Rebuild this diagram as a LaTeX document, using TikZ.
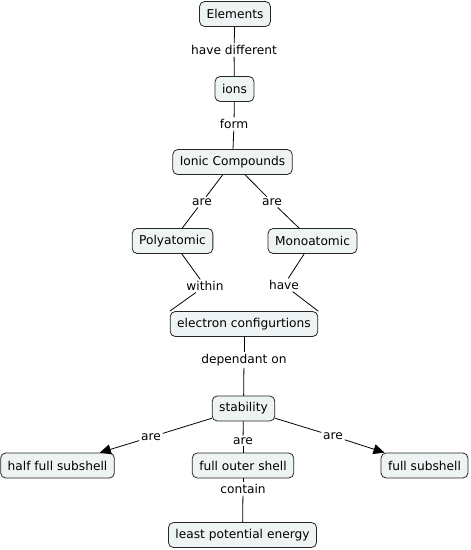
\documentclass[tikz,border=0pt]{standalone}
\usepackage{fontspec}
\setmainfont{DejaVu Sans}
\usepackage{tikz}
\usetikzlibrary{arrows.meta}
\definecolor{cfill}{RGB}{238,243,244}
\begin{document}
\begin{tikzpicture}[x=1pt,y=-1pt,font=\fontsize{12.2}{14}\selectfont,
	concept/.style={draw=black!85,fill=cfill,rounded corners=5pt,line width=0.8pt,
		inner xsep=7pt,minimum height=25pt},
	link/.style={inner sep=1.5pt},
	every path/.style={line width=0.8pt},
	tip/.style={-{Triangle[length=11pt,width=10pt]}}]
		\useasboundingbox (0,0) rectangle (471,550);
		\node[concept] (U0) at (235,14) {Elements};
		\node[concept] (U1) at (234.5,89) {ions};
		\node[concept] (U2) at (232.5,162) {Ionic Compounds};
		\node[concept] (P) at (172.5,241) {Polyatomic};
		\node[concept] (M) at (312.5,241) {Monoatomic};
		\node[concept] (E) at (244,324) {electron configurtions};
		\node[concept] (S) at (243.5,408.5) {stability};
		\node[concept] (S0) at (57.5,465.5) {half full subshell};
		\node[concept] (S1) at (243,465.5) {full outer shell};
		\node[concept] (S2) at (424.5,465.5) {full subshell};
		\node[concept] (L) at (242.5,535) {least potential energy};
		% link words
		\node[link] (l0) at (234,50) {have different};
		\node[link] (l1) at (234,124) {form};
		\node[link] (l2) at (202,202) {are};
		\node[link] (l3) at (272,202) {are};
		\node[link] (l4) at (205,286) {within};
		\node[link] (l5) at (284,285) {have};
		\node[link] (l6) at (244,360) {dependant on};
		\node[link] (l7) at (151,437) {are};
		\node[link] (l8) at (243,441) {are};
		\node[link] (l9) at (333,436) {are};
		\node[link] (l10) at (243,489) {contain};
		\draw (U0) to (l0);
		\draw (l0) to (U1);
		\draw (U1) to (l1);
		\draw (l1) to (U2);
		\draw (U2) to (l2);
		\draw (l2) to (P);
		\draw (U2) to (l3);
		\draw (l3) to (M);
		\draw (P) to (l4);
		\draw (l4) to (E.north west);
		\draw (M) to (l5);
		\draw (l5) to (E.north east);
		\draw (E) to (l6);
		\draw (l6) to (S);
		\draw (S) to (l7);
		\draw[tip] (l7) to (S0);
		\draw (S) to (l8);
		\draw (l8) to (S1);
		\draw (S) to (l9);
		\draw[tip] (l9) to (S2);
		\draw (S1) to (l10);
		\draw (l10) to (L);
\end{tikzpicture}
\end{document}
